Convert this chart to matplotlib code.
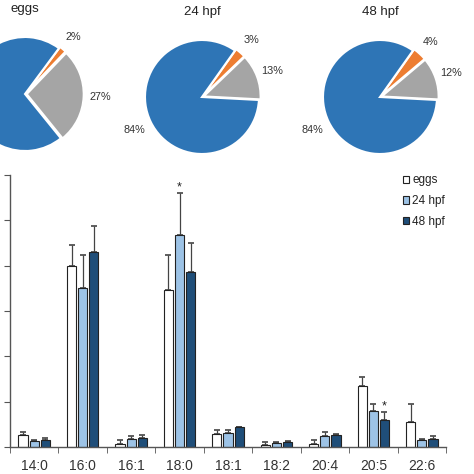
import matplotlib
matplotlib.use("Agg")
import matplotlib.pyplot as plt
import numpy as np

plt.rcParams['font.family'] = ['Liberation Sans', 'DejaVu Sans']

# ---- data ----
pie_titles = ["eggs", "24 hpf", "48 hpf"]
pie_grey = [27, 13, 12]
pie_orange = [2, 3, 4]
pie_blue = [71, 84, 84]
pie_start = [-51, -3, -3]
pie_show_blue_label = [False, True, True]

categories = ["14:0", "16:0", "16:1", "18:0", "18:1", "18:2", "20:4", "20:5", "22:6"]
series_names = ["eggs", "24 hpf", "48 hpf"]
eggs_vals = [0.26, 4.00, 0.06, 3.47, 0.28, 0.044, 0.06, 1.34, 0.55]
eggs_err = [0.08, 0.46, 0.10, 0.77, 0.10, 0.056, 0.09, 0.20, 0.39]
h24_vals = [0.125, 3.51, 0.18, 4.67, 0.30, 0.08, 0.25, 0.79, 0.15]
h24_err = [0.03, 0.73, 0.06, 0.93, 0.075, 0.02, 0.08, 0.15, 0.03]
h48_vals = [0.15, 4.31, 0.19, 3.85, 0.45, 0.12, 0.26, 0.59, 0.18]
h48_err = [0.05, 0.57, 0.07, 0.66, 0.0, 0.01, 0.03, 0.19, 0.07]
star_marks = [(3, 1), (7, 2)]  # (category index, series index)

W = H = 474
fig = plt.figure(figsize=(W / 100, H / 100), dpi=100)

def fx(px):
    return px / W

def fy(py):
    return 1 - py / H

# ---- pies ----
pie_colors = ["#A5A5A5", "#ED7D31", "#2E75B6"]
centers = [(25, 94), (202, 97), (380, 97)]
R = 57
half = 90
for i in range(3):
    cx, cy = centers[i]
    ax = fig.add_axes([fx(cx - half), fy(cy + half), fx(2 * half), 2 * half / H])
    vals = [pie_grey[i], pie_orange[i], pie_blue[i]]
    wedges, _ = ax.pie(vals, colors=pie_colors, startangle=pie_start[i],
                       counterclock=True, explode=[0.03, 0.03, 0],
                       wedgeprops=dict(edgecolor='white', linewidth=1.5))
    show = [True, True, pie_show_blue_label[i]]
    for w, v, sh in zip(wedges, vals, show):
        if not sh:
            continue
        ang = np.deg2rad((w.theta1 + w.theta2) / 2)
        ax.text(1.32 * np.cos(ang), 1.32 * np.sin(ang), f"{v}%", ha='center',
                va='center', fontsize=7.8, color='#333333')
    lim = half / R
    ax.set_xlim(-lim, lim)
    ax.set_ylim(-lim, lim)
    ax.set_aspect('equal')
    ax.axis('off')
    fig.text(fx(cx), fy(cy - 85), pie_titles[i], ha='center', va='center',
             fontsize=9.5, color='#222222')

# ---- bars ----
ax = fig.add_axes([fx(10), fy(447), fx(436), (447 - 175) / H])
x = np.arange(len(categories))
offs = [-0.23, 0.0, 0.23]
bw = 0.19
vals_all = [eggs_vals, h24_vals, h48_vals]
errs_all = [eggs_err, h24_err, h48_err]
face = ["white", "#9DC3E6", "#1F4E79"]
for s in range(3):
    ax.bar(x + offs[s], vals_all[s], width=bw, color=face[s], edgecolor='#222222',
           linewidth=0.8, label=series_names[s], zorder=2)
    ax.errorbar(x + offs[s], vals_all[s], yerr=[np.zeros(len(x)), errs_all[s]],
                fmt='none', ecolor='#444444', elinewidth=0.9, capsize=2.5,
                capthick=1.2, zorder=1)
for ci, si in star_marks:
    ytop = vals_all[si][ci] + errs_all[si][ci]
    ax.text(ci + offs[si], ytop + 0.12, "*", ha='center', va='center',
            fontsize=9, color='#222222')

ax.set_xlim(-0.5, len(categories) - 0.5)
ax.set_ylim(0, 6)
ax.set_yticks(np.arange(0, 7, 1))
ax.set_yticklabels([])
ax.set_xticks(x)
ax.set_xticklabels(categories, fontsize=10, color='#333333')
ax.set_xticks(np.arange(-0.5, len(categories), 1), minor=True)
ax.tick_params(axis='x', which='major', length=0, pad=9)
ax.tick_params(axis='x', which='minor', length=4, color='#555555', direction='out')
ax.tick_params(axis='y', length=4, color='#555555', direction='out')
for sp in ['top', 'right']:
    ax.spines[sp].set_visible(False)
for sp in ['left', 'bottom']:
    ax.spines[sp].set_color('#555555')
    ax.spines[sp].set_linewidth(1)

leg = ax.legend(loc='upper left', bbox_to_anchor=(fx(398 - 10) / fx(436), 1.02),
                frameon=False, fontsize=8.5, handlelength=0.55, handleheight=0.55,
                handletextpad=0.25, labelspacing=0.75, borderaxespad=0)
for t in leg.get_texts():
    t.set_color('#222222')

fig.savefig("out.png", dpi=100)
